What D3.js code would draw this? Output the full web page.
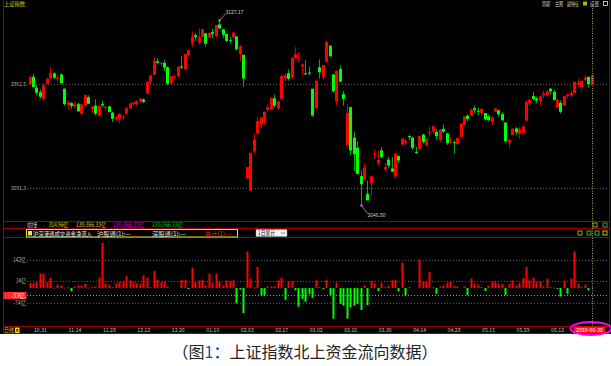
<!DOCTYPE html>
<html>
<head>
<meta charset="utf-8">
<script src="https://cdn.jsdelivr.net/npm/d3@7/dist/d3.min.js"></script>
<style>
  html, body { margin: 0; padding: 0; background: #fff; }
  svg { display: block; }
</style>
</head>
<body>
<div id="chart"></div>
<script>
// ---------------------------------------------------------------
//  data (上证指数 daily, 2019-10-28 .. 2020-06-30)
// ---------------------------------------------------------------
const dates = [
  "10.28","10.29","10.30","10.31",
  "11.01","11.04","11.05","11.06","11.07","11.08","11.11","11.12","11.13","11.14","11.15",
  "11.18","11.19","11.20","11.21","11.22","11.25","11.26","11.27","11.28","11.29",
  "12.02","12.03","12.04","12.05","12.06","12.09","12.10","12.11","12.12","12.13",
  "12.16","12.17","12.18","12.19","12.20","12.23","12.24","12.25","12.26","12.27","12.30","12.31",
  "01.02","01.03","01.06","01.07","01.08","01.09","01.10","01.13","01.14","01.15","01.16","01.17",
  "01.20","01.21","01.22","01.23",
  "02.03","02.04","02.05","02.06","02.07","02.10","02.11","02.12","02.13","02.14",
  "02.17","02.18","02.19","02.20","02.21","02.24","02.25","02.26","02.27","02.28",
  "03.02","03.03","03.04","03.05","03.06","03.09","03.10","03.11","03.12","03.13",
  "03.16","03.17","03.18","03.19","03.20","03.23","03.24","03.25","03.26","03.27","03.30","03.31",
  "04.01","04.02","04.03","04.07","04.08","04.09","04.10","04.13","04.14","04.15","04.16","04.17",
  "04.20","04.21","04.22","04.23","04.24","04.27","04.28","04.29","04.30",
  "05.06","05.07","05.08","05.11","05.12","05.13","05.14","05.15","05.18","05.19","05.20","05.21",
  "05.22","05.25","05.26","05.27","05.28","05.29",
  "06.01","06.02","06.03","06.04","06.05","06.08","06.09","06.10","06.11","06.12","06.15","06.16",
  "06.17","06.18","06.19","06.22","06.23","06.24","06.29","06.30"
];

const open = [
  2962,2981,2953,2941,
  2924,2964,2976,2990,2975,2987,2950,2908,2913,2904,2910,
  2885,2906,2928,2897,2906,2880,2911,2900,2904,2888,
  2870,2872,2878,2885,2899,2911,2910,2917,2922,2938,
  2968,2986,3021,3015,3017,3006,2965,2980,2982,3008,3001,3037,
  3067,3089,3070,3085,3094,3083,3097,3087,3117,3104,3092,3076,
  3083,3086,3040,3038,
  2716.7,2685.27,2787,2834,2857,2862,2895,2896,2925,2899,
  2924,2978,2990,2979,3029,3030,3008,2990,2992,2950,
  2899,3006,2981,3020,3062,2987,2918,3001,2936,2804,
  2902,2823,2797,2723,2715,2677,2705,2778,2756,2790,2740,2766,
  2743,2722,2775,2805,2810,2827,2823,2786,2794,2831,2804,2837,
  2839,2838,2817,2846,2834,2813,2811,2806,2825,
  2857,2880,2880,2899,2893,2887,2887,2878,2863,2891,2894,2884,
  2862,2810,2830,2847,2832,2835,
  2867,2913,2931,2925,2917,2934,2934,2950,2942,2902,2913,2906,
  2932,2932,2939,2963,2954,2973,2981,2962
];

const high = [
  2983,2989,2960,2948,
  2964,2980,3006,2993,2988,2990,2951,2919,2915,2916,2914,
  2911,2934,2933,2906,2922,2907,2919,2905,2906,2890,
  2879,2887,2882,2903,2914,2917,2920,2925,2925,2970,
  2987,3031,3029,3021,3024,3008,2984,2986,3008,3036,3041,3051,
  3098,3094,3107,3105,3095,3096,3106,3116,3127.17,3106,3093,3086,
  3096,3087,3062,3038,
  2746.61,2785,2833,2876,2876,2891,2910,2927,2935,2919,
  2983.62,2990,3000,3031,3058,3045,3015,3025,3007,2950,
  2971,3026,3012,3074,3062,2989,2997,3010,2944,2910,
  2903,2839,2813,2737,2756,2712,2725,2792,2790,2799,2758,2773,
  2772,2783,2777,2820.76,2820,2830,2825,2799,2827,2833,2820,2852,
  2853,2845,2845,2857,2836,2824,2816,2823,2861,
  2878,2884,2899,2907,2900,2898,2887,2883,2878,2901,2895,2890,
  2863,2818,2847,2851,2850,2855,
  2919,2922,2942,2929,2931,2944,2944,2952,2947,2924,2920,2932,
  2937,2945,2969,2976,2971,2986,2982,2986
];

const low = [
  2958,2953,2934,2924,
  2920,2960,2975,2975,2969,2963,2905,2896,2898,2899,2890,
  2881,2905,2910,2885,2880,2879,2903,2893,2888,2863,
  2866,2860,2867,2883,2897,2905,2905,2913,2912,2937,
  2962,2985,3013,3010,2996,2959,2963,2975,2980,3001,2998,3034,
  3059,3074,3065,3084,3059,3082,3081,3083,3105,3081,3072,3068,
  3080,3050,3022,2955,
  2716.7,2685.27,2780,2831,2847,2854,2889,2895,2901,2896,
  2924,2970,2971,2974,3026,3018,2985,2985,2985,2878,
  2899,2976,2974,3018,3032,2940,2908,2966,2906,2804,
  2778,2736,2728,2646.8,2710,2660,2672,2769,2750,2770,2735,2745,
  2733,2717,2757,2804,2803,2816,2791,2781,2789,2807,2800,2826,
  2835,2818,2811,2835,2804,2805,2781,2805,2825,
  2856,2866,2880,2887,2881,2881,2868,2866,2856,2890,2878,2867,
  2810,2796,2830,2829,2820,2832,
  2867,2905,2920,2912,2907,2926,2931,2935,2919,2899,2886,2905,
  2925,2928,2939,2954,2944,2969,2953,2961
];

const close = [
  2980.05,2954.18,2939.32,2929.06,
  2958.20,2975.49,2991.56,2978.71,2978.60,2964.18,2909.97,2914.82,2905.24,2909.87,2891.34,
  2909.20,2933.99,2911.05,2903.64,2885.29,2906.17,2907.06,2903.19,2889.69,2871.98,
  2875.81,2884.70,2878.12,2899.47,2912.01,2914.48,2917.32,2924.42,2915.70,2967.68,
  2984.39,3022.42,3017.04,3017.07,3004.94,2962.75,2982.68,2981.88,3007.35,3005.04,3040.02,3050.12,
  3085.20,3083.79,3083.41,3104.80,3066.89,3094.88,3092.29,3115.57,3106.82,3090.04,3074.08,3075.50,
  3095.79,3052.14,3060.75,2976.53,
  2746.61,2783.29,2818.09,2866.51,2875.96,2890.49,2901.67,2926.90,2906.07,2917.01,
  2983.62,2984.97,2975.40,3030.15,3039.67,3031.23,3013.05,2987.93,2991.33,2880.30,
  2970.93,2992.90,3011.67,3071.68,3034.51,2943.29,2996.76,2968.52,2923.49,2887.43,
  2789.25,2779.64,2728.76,2702.13,2745.62,2660.17,2722.44,2781.59,2764.91,2772.20,2747.21,2750.30,
  2734.52,2780.64,2763.99,2820.76,2815.37,2825.90,2796.63,2783.05,2827.28,2811.17,2819.94,2838.49,
  2852.55,2827.01,2843.98,2838.50,2808.53,2815.49,2810.02,2822.44,2860.08,
  2878.14,2871.52,2895.34,2894.80,2891.56,2898.05,2870.34,2868.46,2875.42,2898.58,2883.74,2867.92,
  2813.77,2817.97,2846.55,2836.80,2846.22,2852.35,
  2915.43,2921.40,2923.37,2919.25,2930.80,2937.77,2943.75,2943.32,2920.90,2919.74,2890.03,2931.75,
  2935.87,2939.32,2967.63,2965.27,2970.62,2979.55,2961.52,2984.67
];

// northbound net inflow (亿), null = Stock Connect closed that day
const flows = [
  25,25,30,73,
  73,30,51,2,18,13,3,4,-17,8,13,
  13,22,2,5,8,53,229,22,17,5,
  25,30,36,60,39,30,25,22,65,53,
  5,87,42,30,30,8,null,null,null,42,42,-3,
  104,30,39,42,13,73,27,73,30,13,39,36,
  39,-77,-8,-127,
  185,47,3,107,-38,-38,8,8,8,39,
  53,-60,36,36,-12,-94,-55,-70,-30,-50,
  39,5,-5,40,-35,-155,27,-80,-89,-155,
  -98,-89,-80,-111,13,-86,36,25,-15,27,5,13,
  39,42,-17,128,-38,6,null,null,145,34,34,82,
  5,-29,8,13,27,34,10,8,null,
  8,-35,48,22,17,5,-15,13,30,30,22,22,
  -35,22,39,13,25,53,
  107,39,53,30,36,8,48,5,3,-5,-43,39,
  -29,48,185,22,5,17,-12,5
];

const priceTicks = [2961.5, 2691.3];
const flowTicks = [142, 34, -74];
const flowUnit = "亿";
const cursorFlow = -33;
const axisLabels = ["10.31","11.14","11.28","12.12","12.26","01.10","02.03","02.17",
                    "03.02","03.16","03.30","04.14","04.28","05.15","05.29","06.12"];
const cursorLabel = "2020-06-30";

const titleText = "上证指数";
const toolButtons = ["周期", "主图", "副特征", "设置"];
const volumeRow = ["成交量", "314.96亿", "130:366.33亿", "130:366.33亿", "130:366.33亿"];
const legendRow = ["沪深港通成交资金净流入", "沪股通(1):—", "深股通(1):—", "总计(1):—"];
const periodSelect = "1日累计";
const periodLabel = "日线";
const captionParts = ["（图", "1", "：上证指数北上资金流向数据）"];

// ---------------------------------------------------------------
//  layout
// ---------------------------------------------------------------
const W = 611, H = 366;
const frame = { left: 3, right: 609, bottom: 334 };
const font = "'Noto Sans CJK SC', 'DejaVu Sans', sans-serif";
const RED = "#ff0000", GREEN = "#00ff00", FRAME = "#9a0000";

const svg = d3.select("#chart").append("svg")
    .attr("width", W)
    .attr("height", H)
    .style("font-family", font);

svg.append("rect").attr("width", W).attr("height", H).attr("fill", "#fff");
svg.append("rect")
    .attr("x", 0).attr("y", 0)
    .attr("width", W).attr("height", frame.bottom)
    .attr("fill", "#000");

// scales
const x = d3.scaleLinear().domain([0, dates.length - 1]).range([29.6, 591.5]);
const yPrice = d3.scaleLinear().domain([2646.8, 3127.17]).range([205.5, 20.5]);
const yFlow = d3.scaleLinear().domain([-74, 142]).range([302.7, 260]);

const px = i => Math.round(x(i));

// frame lines
[frame.left + 0.5, frame.right + 0.5].forEach(xx => {
    svg.append("line")
        .attr("x1", xx).attr("x2", xx).attr("y1", 0).attr("y2", frame.bottom)
        .attr("stroke", FRAME);
});
[221.5, 228.5, 237.5, 326.5, 333.5].forEach(yy => {
    svg.append("line")
        .attr("x1", frame.left).attr("x2", frame.right + 1)
        .attr("y1", yy).attr("y2", yy)
        .attr("stroke", FRAME);
});

// ---------------- header ----------------
svg.append("text")
    .attr("x", 4).attr("y", 5.5)
    .attr("font-size", 6).attr("fill", "#c8c000")
    .attr("textLength", 21).attr("lengthAdjust", "spacingAndGlyphs")
    .text(titleText);

const btnX = [542, 555, 567, 590];
const btnW = [8, 8, 12, 9];
toolButtons.forEach((t, k) => {
    svg.append("text")
        .attr("x", btnX[k]).attr("y", 5.5)
        .attr("font-size", 5.5).attr("fill", "#c8c8c8")
        .attr("textLength", btnW[k]).attr("lengthAdjust", "spacingAndGlyphs")
        .text(t);
});
svg.append("rect").attr("x", 583).attr("y", 1.5).attr("width", 4).attr("height", 4)
    .attr("fill", "#b8b000");
svg.append("rect").attr("x", 603.5).attr("y", 1.5).attr("width", 4).attr("height", 4)
    .attr("fill", "none").attr("stroke", "#ddd").attr("stroke-width", 0.8);

// ---------------- price panel ----------------
priceTicks.forEach(v => {
    svg.append("line")
        .attr("x1", 27).attr("x2", frame.right)
        .attr("y1", Math.round(yPrice(v)) + 0.5).attr("y2", Math.round(yPrice(v)) + 0.5)
        .attr("stroke", "#5a5a5a").attr("stroke-dasharray", "1,2");
    svg.append("text")
        .attr("x", 26).attr("y", yPrice(v) + 2)
        .attr("text-anchor", "end")
        .attr("font-size", 5.5).attr("fill", "#b0b0b0")
        .attr("textLength", 15).attr("lengthAdjust", "spacingAndGlyphs")
        .text(v.toFixed(1));
});

const candles = dates.map((d, i) => ({ i, o: open[i], h: high[i], l: low[i], c: close[i] }));

svg.append("g").selectAll("line")
    .data(candles)
    .join("line")
    .attr("x1", d => px(d.i) + 0.5).attr("x2", d => px(d.i) + 0.5)
    .attr("y1", d => yPrice(d.h)).attr("y2", d => yPrice(d.l))
    .attr("stroke", d => d.c >= d.o ? "#d00000" : "#00b000");

svg.append("g").selectAll("rect")
    .data(candles)
    .join("rect")
    .attr("x", d => px(d.i) - 1)
    .attr("width", 3)
    .attr("y", d => yPrice(Math.max(d.o, d.c)))
    .attr("height", d => Math.max(1, Math.abs(yPrice(d.o) - yPrice(d.c))))
    .attr("fill", d => d.c >= d.o ? RED : GREEN);

// extreme markers
const hiI = d3.maxIndex(high), loI = d3.minIndex(low);
const marks = [
    { i: hiI, v: high[hiI], dx: 6, dy: -6.5, ty: -6.5 },
    { i: loI, v: low[loI], dx: 6, dy: 8, ty: 11 }
];
marks.forEach(m => {
    const mx = px(m.i) + 0.5, my = yPrice(m.v);
    svg.append("rect").attr("x", mx - 1).attr("y", my - 1).attr("width", 2).attr("height", 2)
        .attr("fill", "#aaa");
    svg.append("line")
        .attr("x1", mx).attr("y1", my).attr("x2", mx + m.dx).attr("y2", my + m.dy)
        .attr("stroke", "#999").attr("stroke-width", 0.8);
    svg.append("text")
        .attr("x", mx + m.dx).attr("y", my + m.ty)
        .attr("font-size", 5.5).attr("fill", "#d0d0d0")
        .attr("textLength", 18).attr("lengthAdjust", "spacingAndGlyphs")
        .text(m.v.toFixed(2));
});

// ---------------- volume row + legend row ----------------
const volX = [27, 49, 76, 113, 152];
const volW = [10, 19, 30, 31, 31];
const volC = ["#c8c8c8", "#d8d800", "#c8c850", "#d000d0", "#00c000"];
volumeRow.forEach((t, k) => {
    svg.append("text")
        .attr("x", volX[k]).attr("y", 227)
        .attr("font-size", 5.5).attr("fill", volC[k])
        .attr("textLength", volW[k]).attr("lengthAdjust", "spacingAndGlyphs")
        .text(t);
});

svg.append("rect")
    .attr("x", 26.5).attr("y", 229.5).attr("width", 211).attr("height", 7.5)
    .attr("fill", "none").attr("stroke", "#e8e800");
svg.append("rect").attr("x", 28).attr("y", 231).attr("width", 4).attr("height", 4.5)
    .attr("fill", "#d8d8a0");
const legX = [33, 97, 152, 205];
const legW = [59, 34, 34, 27];
const legC = ["#e8e8e8", "#e8e8e8", "#e8e8e8", "#ff2020"];
legendRow.forEach((t, k) => {
    svg.append("text")
        .attr("x", legX[k]).attr("y", 235.6)
        .attr("font-size", 6).attr("fill", legC[k])
        .attr("textLength", legW[k]).attr("lengthAdjust", "spacingAndGlyphs")
        .text(t);
});

svg.append("rect").attr("x", 256).attr("y", 229.5).attr("width", 31).attr("height", 7)
    .attr("fill", "#f4f4f4").attr("stroke", "#999").attr("stroke-width", 0.5);
svg.append("text").attr("x", 258).attr("y", 235.3)
    .attr("font-size", 5.5).attr("fill", "#111")
    .attr("textLength", 17).attr("lengthAdjust", "spacingAndGlyphs")
    .text(periodSelect);
svg.append("path").attr("d", "M281,232 l2,2 l2,-2")
    .attr("fill", "none").attr("stroke", "#555").attr("stroke-width", 0.7);

// little tool icons on the right of the two rows
[[593, 223, "#a8a000"], [603, 223, "#40a040"], [578, 231, "#a8a000"],
 [587, 231, "#40b040"], [595, 231, "#40b040"], [603, 231, "#c8c000"]].forEach(p => {
    svg.append("rect").attr("x", p[0]).attr("y", p[1]).attr("width", 4).attr("height", 4)
        .attr("fill", "none").attr("stroke", p[2]).attr("stroke-width", 1);
});

// ---------------- flow panel ----------------
flowTicks.forEach(v => {
    const yy = Math.round(yFlow(v)) + 0.5;
    svg.append("line")
        .attr("x1", 27).attr("x2", frame.right)
        .attr("y1", yy).attr("y2", yy)
        .attr("stroke", "#5a5a5a").attr("stroke-dasharray", "1,2");
    svg.append("text")
        .attr("x", 26).attr("y", yFlow(v) + 2)
        .attr("text-anchor", "end")
        .attr("font-size", 5.5).attr("fill", "#b0b0b0")
        .attr("textLength", String(v).length * 3 + 4).attr("lengthAdjust", "spacingAndGlyphs")
        .text(v + flowUnit);
});

// crosshair value on the flow axis
const cy = Math.round(yFlow(cursorFlow)) + 0.5;
svg.append("line")
    .attr("x1", 27).attr("x2", frame.right)
    .attr("y1", cy).attr("y2", cy)
    .attr("stroke", "#9a9a9a").attr("stroke-dasharray", "1,2");
svg.append("rect").attr("x", 3.5).attr("y", cy - 3.5).attr("width", 23).attr("height", 7)
    .attr("fill", "#ff2a2a");
svg.append("text")
    .attr("x", 25).attr("y", cy + 2)
    .attr("text-anchor", "end")
    .attr("font-size", 5.5).attr("fill", "#ffe0e0")
    .attr("textLength", 14).attr("lengthAdjust", "spacingAndGlyphs")
    .text(cursorFlow + flowUnit);

const flowData = flows.map((v, i) => ({ i, v })).filter(d => d.v !== null);
svg.append("g").selectAll("rect")
    .data(flowData)
    .join("rect")
    .attr("x", d => px(d.i) - 0.5)
    .attr("width", 2)
    .attr("y", d => Math.min(yFlow(d.v), yFlow(0)))
    .attr("height", d => Math.max(1, Math.abs(yFlow(d.v) - yFlow(0))))
    .attr("fill", d => d.v >= 0 ? RED : GREEN);

// ---------------- cursor line ----------------
const lastX = px(dates.length - 1) + 0.5;
svg.append("line")
    .attr("x1", lastX).attr("x2", lastX).attr("y1", 8).attr("y2", 326)
    .attr("stroke", "#a0a070").attr("stroke-dasharray", "1,1.5");

// ---------------- date axis ----------------
const xAxis = d3.axisBottom(x)
    .tickValues(axisLabels.map(d => dates.indexOf(d)))
    .tickFormat(i => dates[i])
    .tickSize(0)
    .tickPadding(0);

const gx = svg.append("g")
    .attr("transform", "translate(0,327.6)")
    .call(xAxis);
gx.select(".domain").remove();
gx.selectAll("text")
    .attr("font-family", font)
    .attr("font-size", 5.5)
    .attr("fill", "#c0c0c0")
    .attr("textLength", 13)
    .attr("lengthAdjust", "spacingAndGlyphs");

svg.append("text").attr("x", 4).attr("y", 332.3)
    .attr("font-size", 6).attr("fill", "#d8d000")
    .attr("textLength", 10).attr("lengthAdjust", "spacingAndGlyphs")
    .text(periodLabel);
svg.append("rect").attr("x", 15).attr("y", 327.5).attr("width", 4.5).attr("height", 5.5)
    .attr("fill", "#e8e000");
svg.append("rect").attr("x", 16.3).attr("y", 329).attr("width", 2).attr("height", 2.5)
    .attr("fill", "#a00000");

// highlighted last date
const lx = x(dates.length - 1) - 2;
svg.append("rect").attr("x", lx - 16).attr("y", 326.5).attr("width", 32).attr("height", 7)
    .attr("fill", "#ff1010");
svg.append("text")
    .attr("x", lx).attr("y", 332)
    .attr("text-anchor", "middle")
    .attr("font-size", 5.5).attr("fill", "#fff")
    .attr("textLength", 27).attr("lengthAdjust", "spacingAndGlyphs")
    .text(cursorLabel);
svg.append("ellipse")
    .attr("cx", lx + 1.5).attr("cy", 328.5).attr("rx", 20.5).attr("ry", 6.5)
    .attr("fill", "none").attr("stroke", "#ff00ff").attr("stroke-width", 2);

// ---------------- caption ----------------
const cap = svg.append("text")
    .attr("x", 305).attr("y", 357.5)
    .attr("text-anchor", "middle")
    .attr("font-size", 16)
    .attr("fill", "#222");
cap.append("tspan").text(captionParts[0]);
cap.append("tspan").attr("fill", "#1a4fb0").text(captionParts[1]);
cap.append("tspan").text(captionParts[2]);
</script>
</body>
</html>
